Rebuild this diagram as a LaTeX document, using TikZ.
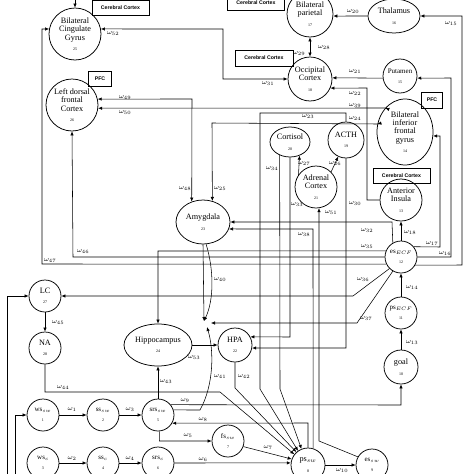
\documentclass[tikz,border=0pt]{standalone}
\usepackage{fontspec}
\setmainfont{Liberation Serif}
\newfontfamily\ccfont{Liberation Sans}
\usetikzlibrary{arrows.meta,shapes.geometric}
\newcommand{\nb}[1]{{\fontsize{4}{4}\selectfont #1}}
\newcommand{\om}[1]{$\omega_{#1}$}
\tikzset{
 base/.style={draw, line width=0.75pt, inner sep=0pt, align=center, font=\fontsize{8.2}{8.4}\selectfont},
 circ/.style={base, circle},
 ell/.style={base, ellipse},
 small/.style={font=\fontsize{7}{7.5}\selectfont},
 box/.style={draw, line width=0.6pt, font=\ccfont\bfseries\fontsize{5.2}{5.5}\selectfont, inner sep=0pt, minimum height=15pt, minimum width=57pt},
 pbox/.style={draw, line width=0.6pt, font=\ccfont\bfseries\fontsize{5.2}{5.5}\selectfont, inner sep=0pt, minimum height=15pt, minimum width=23pt},
 arr/.style={-{Latex[length=4pt,width=3.4pt]}, line width=0.55pt},
 darr/.style={{Latex[length=4pt,width=3.4pt]}-{Latex[length=4pt,width=3.4pt]}, line width=0.55pt},
 wl/.style={font=\fontsize{6.8}{7}\selectfont, inner sep=0.5pt},
}
\begin{document}
\begin{tikzpicture}[x=1pt,y=-1pt]
\useasboundingbox (0,0) rectangle (474,474);
\clip (0,0) rectangle (474,474);
% ---------- nodes ----------
\node[circ, minimum size=52pt] (cing) at (75,34) {Bilateral\\Cingulate\\Gyrus\\[2pt]\nb{25}};
\node[circ, minimum size=52pt] (ldf) at (72,105) {Left dorsal\\frontal\\Cortex\\[2pt]\nb{26}};
\node[circ, minimum size=46pt] (par) at (310,14) {Bilateral\\parietal\\[2pt]\nb{17}};
\node[ell, minimum width=52pt, minimum height=34pt] (thal) at (394,16) {Thalamus\\[2pt]\nb{16}};
\node[circ, minimum size=44pt] (occ) at (310,79) {Occipital\\Cortex\\[2pt]\nb{18}};
\node[circ, minimum size=34pt, small] (put) at (400,76) {Putamen\\[2pt]\nb{15}};
\node[ell, minimum width=56pt, minimum height=66pt] (ifg) at (405,132) {Bilateral\\inferior\\frontal\\gyrus\\[2pt]\nb{14}};
\node[circ, minimum size=42pt] (ins) at (401,200) {Anterior\\Insula\\[2pt]\nb{13}};
\node[ell, minimum width=40pt, minimum height=30pt] (cort) at (290,142) {Cortisol\\[2pt]\nb{20}};
\node[circ, minimum size=36pt] (acth) at (346,140) {ACTH\\[2pt]\nb{19}};
\node[circ, minimum size=42pt] (adr) at (316,187) {Adrenal\\Cortex\\[2pt]\nb{21}};
\node[ell, minimum width=54pt, minimum height=44pt] (amy) at (203,222) {Amygdala\\[2pt]\nb{23}};
\node[ell, minimum width=68pt, minimum height=42pt] (hip) at (158,345) {Hippocampus\\[2pt]\nb{24}};
\node[circ, minimum size=34pt] (hpa) at (235,345) {HPA\\[2pt]\nb{22}};
\node[circ, minimum size=32pt] (lc) at (45,296) {LC\\[2pt]\nb{27}};
\node[circ, minimum size=32pt] (na) at (45,348) {NA\\[2pt]\nb{28}};
\node[circ, minimum size=32pt, small] (esE) at (401,257) {es$_{ECF}$\\[2pt]\nb{12}};
\node[circ, minimum size=32pt, small] (psE) at (401,313) {ps$_{ECF}$\\[2pt]\nb{11}};
\node[circ, minimum size=34pt] (goal) at (401,367) {goal\\[2pt]\nb{10}};
\node[circ, minimum size=32pt, small] (ws1) at (43,415) {ws$_{sw}$\\[2pt]\nb{1}};
\node[circ, minimum size=32pt, small] (ss2) at (103,415) {ss$_{sw}$\\[2pt]\nb{2}};
\node[circ, minimum size=32pt, small] (srs5) at (158,415) {srs$_{sw}$\\[2pt]\nb{5}};
\node[circ, minimum size=32pt, small] (ws3) at (43,463) {ws$_{c}$\\[2pt]\nb{3}};
\node[circ, minimum size=32pt, small] (ss4) at (103,463) {ss$_{c}$\\[2pt]\nb{4}};
\node[circ, minimum size=32pt, small] (srs6) at (158,463) {srs$_{c}$\\[2pt]\nb{6}};
\node[circ, minimum size=32pt, small] (fs7) at (228,441) {fs$_{sw}$\\[2pt]\nb{7}};
\node[circ, minimum size=34pt] (ps8) at (308,465) {ps$_{sw}$\\[2pt]\nb{8}};
\node[circ, minimum size=32pt, small] (es9) at (372,465) {es$_{sw}$\\[2pt]\nb{9}};
% boxes
\node[box] (cc1) at (120.5,7.5) {Cerebral Cortex};
\node[box, minimum height=14pt] (cc2) at (256,3) {Cerebral Cortex};
\node[box, minimum height=16pt, minimum width=58pt] (cc3) at (264,58) {Cerebral Cortex};
\node[box, minimum width=57pt] (cc4) at (401.5,175.5) {Cerebral Cortex};
\node[pbox] (pfc1) at (100,78.5) {PFC};
\node[pbox, minimum width=21pt, minimum height=16pt] (pfc2) at (432,100) {PFC};
% free ends
\coordinate (topin) at (75,-3);
\coordinate (lcin) at (7,480);
\coordinate (wsin) at (15,480);
\coordinate (jn1) at (204,321);
\coordinate (jn2) at (207,327);
\coordinate (jn3) at (211,323);
% ---------- connectors ----------
\draw[arr] (topin) -- (cing.north);
\draw[darr] (cing.11) -- (223,29) -- (223,79) -- (occ.west);
\draw[arr] (esE.206) -- (42,264) -- (42,29) -- (cing.169);
\draw[arr] (esE.180) -- (73,257) -- (ldf.south);
\draw[arr] (esE.158) -- (158,251) -- (hip.north);
\draw[arr] (esE.120) -- (392,222) -- (amy.east);
\draw[arr] (ps8.73) -- (313,229) -- (amy.-15);
\draw[darr] (ldf.13) -- (192,99) -- (amy.119);
\draw[darr] (ldf.-7) -- (385.8,108) -- (ifg.129);
\draw[darr] (amy.66) -- (212,123) -- (377.8,124) -- (ifg.164);
\draw[arr] (acth.north) -- (346,113) -- (260,113) -- (260,389) -- (ps8.125);
\draw[arr] (cort.232) -- (280,389) -- (ps8.112);
\draw[arr] (cort.south) -- (290,337) -- (hpa.28);
\draw[arr] (acth.south) -- (346,348) -- (hpa.-10);
\draw[arr] (adr.145) -- (cort.-55);
\draw[arr] (adr.45) -- (acth.-115);
\draw[arr] (es9.150) -- (319,441) -- (adr.-82);
\draw[arr] (ins.west) -- (367,200) -- (367,88) -- (occ.-24);
\draw[arr] (put.187) -- (occ.3);
\draw[arr] (thal.west) -- (par.-5);
\draw[darr] (occ.north) -- (par.south);
\draw[arr] (esE.39) -- (440,247) -- (440,136) -- (ifg.-8);
\draw[arr] (esE.0) -- (451,257) -- (451,78) -- (put.-7);
\draw[arr] (esE.-30) -- (462,265) -- (462,16) -- (thal.east);
\draw[arr] (esE.north) -- (ins.south);
\draw[arr] (psE.north) -- (esE.south);
\draw[arr] (goal.north) -- (psE.south);
\draw[arr] (srs5.39) -- (401,405) -- (goal.south);
\draw[arr] (esE.225) -- (353,296) -- (lc.east);
\draw[arr] (esE.240) -- (357,323) -- (jn3);
\draw[arr] (amy.-90) -- (jn1);
\draw[arr] (amy.-82) .. controls (214,270) and (214,300) .. (jn1);
\draw[arr] (srs5.18) -- (200,410) .. controls (214,385) and (214,350) .. (jn2);
\draw[arr] (srs5.north) -- (hip.south);
\draw[arr] (hip.east) -- (hpa.west);
\draw[arr] (hpa.south) -- (235,388) -- (ps8.132);
\draw[arr] (na.south) -- (45,392) -- (220,392) -- (ps8.142);
\draw[arr] (lc.south) -- (na.north);
\draw[arr] (lcin) -- (7,296) -- (lc.west);
\draw[arr] (wsin) -- (15,415) -- (ws1.west);
\draw[arr] (ws1.east) -- (ss2.west);
\draw[arr] (ss2.east) -- (srs5.west);
\draw[arr] (ws3.east) -- (ss4.west);
\draw[arr] (ss4.east) -- (srs6.west);
\draw[arr] (srs5.-85) -- (159.4,441) -- (fs7.west);
\draw[arr] (srs6.east) -- (ps8.173);
\draw[arr] (fs7.-20) -- (ps8.160);
\draw[arr] (ps8.north) -- (308,423) -- (srs5.-30);
\draw[arr] (ps8.east) -- (es9.west);
% ---------- weight labels ----------
\node[wl] (l52) at (113,33) {\om{52}};
\node[wl] (l31) at (268,83) {\om{31}};
\node[wl] (l49) at (125,97) {\om{49}};
\node[wl] (l50) at (125,112) {\om{50}};
\node[wl] (l48) at (185,188) {\om{48}};
\node[wl] (l25) at (220,188) {\om{25}};
\node[wl] (l46) at (83,251) {\om{46}};
\node[wl] (l47) at (50,260) {\om{47}};
\node[wl] (l40) at (220,279) {\om{40}};
\node[wl] (l45) at (58,322) {\om{45}};
\node[wl] (l44) at (63,387) {\om{44}};
\node[wl] (l43) at (166,381) {\om{43}};
\node[wl] (l53) at (194,357) {\om{53}};
\node[wl] (l41) at (220,376) {\om{41}};
\node[wl] (l42) at (244,376) {\om{42}};
\node[wl] (l1) at (72,409) {\om{1}};
\node[wl] (l3) at (130,409) {\om{3}};
\node[wl] (l9) at (185,400) {\om{9}};
\node[wl] (l8) at (203,419) {\om{8}};
\node[wl] (l5) at (188,435) {\om{5}};
\node[wl] (l2) at (72,458) {\om{2}};
\node[wl] (l4) at (130,458) {\om{4}};
\node[wl] (l6) at (203,459) {\om{6}};
\node[wl] (l7) at (268,447) {\om{7}};
\node[wl] (l10) at (342,470) {\om{10}};
\node[wl] (l13) at (412,342) {\om{13}};
\node[wl] (l14) at (412,287) {\om{14}};
\node[wl] (l18) at (410,232) {\om{18}};
\node[wl] (l17) at (432,243) {\om{17}};
\node[wl] (l16) at (445,253) {\om{16}};
\node[wl] (l15) at (451,23) {\om{15}};
\node[wl] (l32) at (367,230) {\om{32}};
\node[wl] (l35) at (367,246) {\om{35}};
\node[wl] (l36) at (363,279) {\om{36}};
\node[wl] (l37) at (366,318) {\om{37}};
\node[wl] (l38) at (304,234) {\om{38}};
\node[wl] (l33) at (297,204) {\om{33}};
\node[wl] (l34) at (272,168) {\om{34}};
\node[wl] (l30) at (355,203) {\om{30}};
\node[wl] (l51) at (331,212) {\om{51}};
\node[wl] (l27) at (304,163) {\om{27}};
\node[wl] (l26) at (335,163) {\om{26}};
\node[wl] (l23) at (308,116) {\om{23}};
\node[wl] (l39) at (355,105) {\om{39}};
\node[wl] (l24) at (355,118) {\om{24}};
\node[wl] (l22) at (355,93) {\om{22}};
\node[wl] (l21) at (355,71) {\om{21}};
\node[wl] (l20) at (353,11) {\om{20}};
\node[wl] (l28) at (324,47) {\om{28}};
\node[wl] (l29) at (299,53) {\om{29}};
\end{tikzpicture}
\end{document}
